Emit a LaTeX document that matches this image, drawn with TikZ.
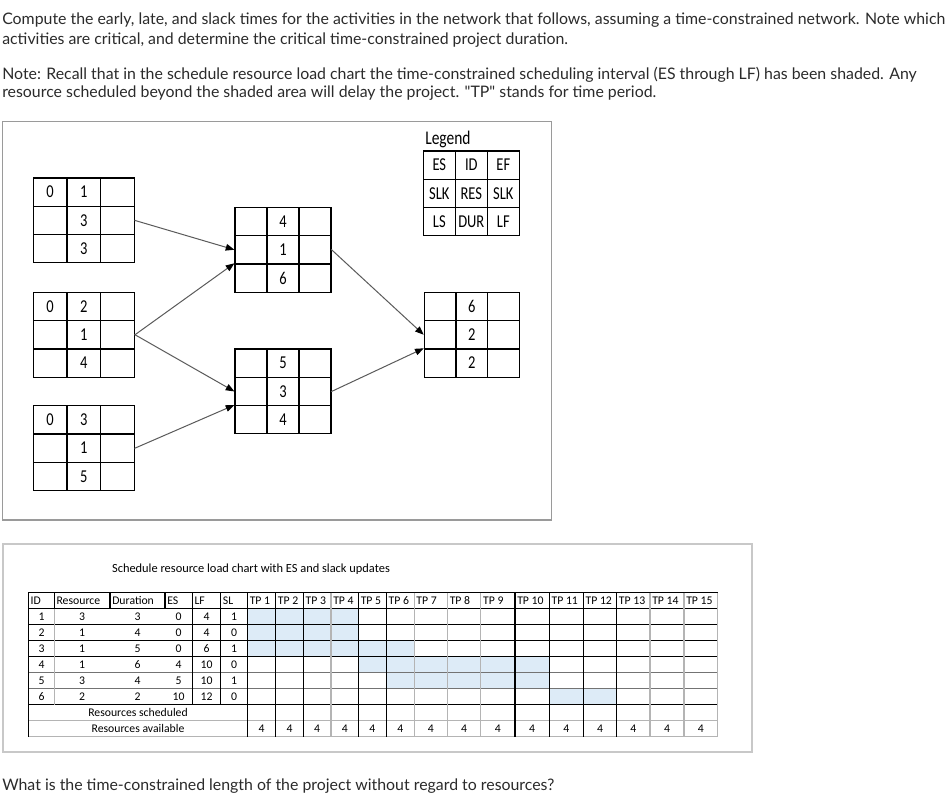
\documentclass[tikz,border=0pt]{standalone}
\usepackage{fontspec}
\setmainfont{Carlito}
\newfontfamily\questfont{Lato}
\newfontfamily\netfont[FakeStretch=0.8]{Carlito}
\usetikzlibrary{arrows.meta,calc}

\begin{document}
\begin{tikzpicture}[
    x=0.75pt,
    y=-0.75pt,
    line cap=rect,
    every node/.style={inner sep=0pt},
]
\definecolor{frameGrey}{HTML}{9A9A9A}
\definecolor{paneGrey}{HTML}{C8C8C8}
\definecolor{gridGrey}{HTML}{B4B4B4}
\definecolor{linkGrey}{HTML}{5A5A5A}
\definecolor{slotBlue}{HTML}{DDEBF7}
\definecolor{questInk}{HTML}{2B2B2B}

\tikzset{
    question/.style={anchor=base west,text=questInk,font=\questfont\fontsize{11.9}{14}\selectfont},
    cell/.style={draw=black,line width=0.9pt,minimum height=21.2pt,
        font=\netfont\fontsize{13.6}{15}\selectfont},
    link/.style={draw=linkGrey,line width=0.75pt,-{Triangle[length=6.5pt,width=5pt,color=black]}},
    tabtext/.style={font=\fontsize{8.8}{10}\selectfont},
    headtext/.style={tabtext,anchor=west},
    darkrule/.style={draw=black,line width=0.8pt,line cap=butt},
    lightrule/.style={draw=gridGrey,line width=0.8pt,line cap=butt},
}

% 3x3 activity box: name, left, top, cell width, cell texts
\newcommand{\actbox}[5]{
    \foreach \t [count=\n from 0] in {#5} {
        \pgfmathtruncatemacro{\r}{div(\n,3)+1}
        \pgfmathtruncatemacro{\c}{mod(\n,3)+1}
        \node[cell,minimum width=#4*0.75pt] (#1-\r-\c) at ({#2+(\c-0.5)*#4},{#3+(\r-0.5)*28.3}) {\t};
    }
}

\useasboundingbox (0,0) rectangle (945,805);
\fill[white] (0,0) rectangle (945,805);

% question text
\node[question] (q1) at (2,25) {Compute the early, late, and slack times for the activities in the network that follows, assuming a time-constrained network. Note which};
\node[question] (q2) at (2,45) {activities are critical, and determine the critical time-constrained project duration.};
\node[question] (q3) at (2,80) {Note: Recall that in the schedule resource load chart the time-constrained scheduling interval (ES through LF) has been shaded. Any};
\node[question] (q4) at (2,98) {resource scheduled beyond the shaded area will delay the project. "TP" stands for time period.};
\node[question] (q5) at (2,790) {What is the time-constrained length of the project without regard to resources?};

% network pane
\draw[frameGrey,line width=1pt] (2.5,121.5) rectangle (551.5,520);

\actbox{a1}{33.3}{178}{33.7}{0,1,{},{},3,{},{},3,{}}
\actbox{a2}{33.3}{292.3}{33.7}{0,2,{},{},1,{},{},4,{}}
\actbox{a3}{33.3}{405.7}{33.7}{0,3,{},{},1,{},{},5,{}}
\actbox{a4}{235}{207.3}{32}{{},4,{},{},1,{},{},6,{}}
\actbox{a5}{235}{349}{32}{{},5,{},{},3,{},{},4,{}}
\actbox{a6}{424.3}{292.3}{31.6}{{},6,{},{},2,{},{},2,{}}

\node[anchor=base west,font=\netfont\fontsize{14.5}{16}\selectfont] (legendtitle) at (425,145) {Legend};
\actbox{legend}{423.3}{151}{32}{ES,ID,EF,SLK,RES,SLK,LS,DUR,LF}

\draw[link] (a1-2-3.east) -- (a4-2-1.west);
\draw[link] (a2-2-3.east) -- (a4-3-1.north west);
\draw[link] (a2-2-3.east) -- (a5-2-1.west);
\draw[link] (a3-2-3.east) -- (a5-3-1.north west);
\draw[link] (a4-2-3.east) -- (a6-2-1.west);
\draw[link] (a5-2-3.east) -- (a6-3-1.north west);

% load chart pane
\draw[paneGrey,line width=1pt] (3,544) rectangle (752,752);
\node[font=\fontsize{9.3}{11}\selectfont] (charttitle) at (251,569) {Schedule resource load chart with ES and slack updates};

\foreach \y [count=\k from 0] in {592.5,608.5,624.5,640.5,656.5,672.5,688.5,704.5,720.5,736.5}
    \coordinate (y\k) at (28.3,\y);
\foreach \x [count=\k from 0] in {247.5,275.7,303.3,331,358.5,386.3,414.2,447.5,480.8,515,549.3,583.3,616.7,650,684,717.7}
    \coordinate (c\k) at (\x,592.5);

% shaded ES..LF intervals
\foreach \i/\es/\lf in {1/0/4,2/0/4,3/0/6,4/4/10,5/5/10,6/10/12} {
    \pgfmathtruncatemacro{\j}{\i+1}
    \fill[slotBlue] (c\es |- y\i) rectangle (c\lf |- y\j);
}

% rules
\foreach \k in {0,1,2,3,4,7}
    \draw[darkrule] (y\k) -- (c15 |- y\k);
\foreach \k in {5,6}
    \draw[draw=black!55,line width=0.8pt,line cap=butt] (y\k) -- (c15 |- y\k);
\foreach \k in {8,9}
    \draw[lightrule] (y\k) -- (c15 |- y\k);
\draw[darkrule] (y0) -- (y9);
\foreach \x in {54.3,110,165,192.3,220.7}
    \draw[darkrule] (\x,592.5) -- (\x,608.5);
\draw[lightrule] (54.3,608.5) -- (54.3,704.5);
\foreach \x in {192.3,220.7}
    \draw[darkrule] (\x,608.5) -- (\x,704.5);
\foreach \k in {0,1,2,4,5,9,10,11,12}
    \draw[darkrule] (c\k) -- (c\k |- y9);
\foreach \k in {3,6,7,8,13,14,15}
    \draw[lightrule] (c\k) -- (c\k |- y9);

% header
\node[headtext] (hid) at (30.3,600.5) {ID};
\node[headtext] (hres) at (56.3,600.5) {Resource};
\node[headtext] (hdur) at (112,600.5) {Duration};
\node[headtext] (hes) at (167,600.5) {ES};
\node[headtext] (hlf) at (194.3,600.5) {LF};
\node[headtext] (hsl) at (222.7,600.5) {SL};
\foreach \k [evaluate=\k as \m using int(\k-1)] in {1,...,15}
    \node[headtext] (tp\k) at ($(c\m)+(2,8)$) {TP \k};

% activity rows
\foreach \i/\res/\dur/\es/\lf/\sl in {1/3/3/0/4/1,2/1/4/0/4/0,3/1/5/0/6/1,4/1/6/4/10/0,5/3/4/5/10/1,6/2/2/10/12/0} {
    \pgfmathsetmacro{\yc}{600.5+16*\i}
    \node[tabtext] (id\i) at (41.5,\yc) {\i};
    \node[tabtext] (res\i) at (82.2,\yc) {\res};
    \node[tabtext] (dur\i) at (137.5,\yc) {\dur};
    \node[tabtext] (es\i) at (178.6,\yc) {\es};
    \node[tabtext] (lf\i) at (206.5,\yc) {\lf};
    \node[tabtext] (sl\i) at (234.1,\yc) {\sl};
}

\node[tabtext] (scheduled) at (138,712.5) {Resources scheduled};
\node[tabtext] (available) at (138,728.5) {Resources available};
\foreach \k [evaluate=\k as \m using int(\k-1)] in {1,...,15}
    \node[tabtext] (av\k) at ($(c\m)!0.5!(c\k)+(0,136)$) {4};
\end{tikzpicture}
\end{document}
